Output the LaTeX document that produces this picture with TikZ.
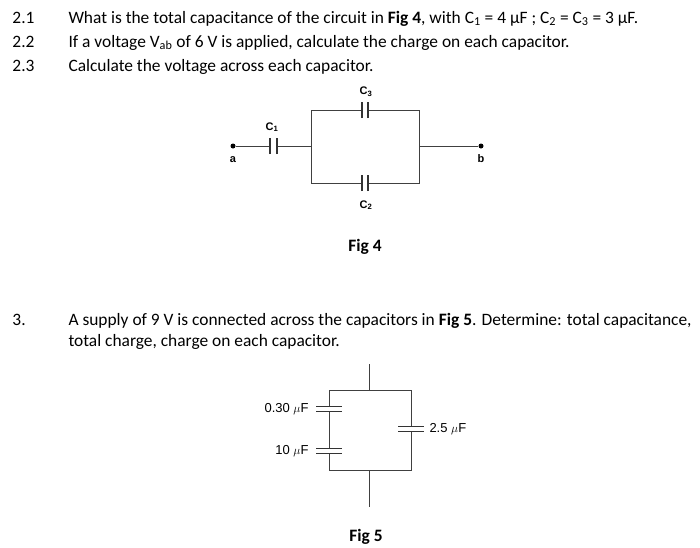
\documentclass[tikz,border=0pt]{standalone}
\usepackage{fontspec}
\setmainfont{Carlito}
\newfontfamily\arial{Liberation Sans}
\begin{document}
\begin{tikzpicture}[x=1pt,y=-1pt,line width=1pt,
  txt/.style={anchor=base west,inner sep=0,font=\fontsize{17.4}{20}\selectfont},
  lbl/.style={inner sep=0,font=\arial\bfseries\fontsize{11}{13}\selectfont},
  lbl5/.style={inner sep=0,font=\arial\fontsize{13}{15}\selectfont},
  wire/.style={draw=black!75,line width=1pt},
  plate/.style={draw=black!80,line width=1.2pt},
  dot/.style={circle,fill=black,inner sep=0,minimum size=5pt}]
\useasboundingbox (0,0) rectangle (700,547);
\fill[white] (0,0) rectangle (700,547);
% text
\node[txt] (n1) at (12,23) {2.1};
\node[txt] (n2) at (12,47) {2.2};
\node[txt] (n3) at (12,71) {2.3};
\node[txt] (t1) at (68,23) {What is the total capacitance of the circuit in \textbf{Fig 4}, with C\textsubscript{1} = 4 µF ; C\textsubscript{2} = C\textsubscript{3} = 3 µF.};
\node[txt] (t2) at (68,47) {If a voltage V\textsubscript{ab} of 6 V is applied, calculate the charge on each capacitor.};
\node[txt] (t3) at (68,71) {Calculate the voltage across each capacitor.};
\node[txt] (n4) at (12,325) {3.};
\node[txt] (t4) at (68,325) {A supply of 9 V is connected across the capacitors in \textbf{Fig 5}.  Determine:  total capacitance,};
\node[txt] (t5) at (68,346) {total charge, charge on each capacitor.};
\node[txt,anchor=base,font=\bfseries\fontsize{17.4}{20}\selectfont] (f4) at (365,251) {Fig 4};
\node[txt,anchor=base,font=\bfseries\fontsize{17.4}{20}\selectfont] (f5) at (366,541) {Fig 5};
% Fig 4
\node[dot] (a) at (233,146) {};
\node[dot] (b) at (481,146) {};
\node[lbl] (la) at (233,160) {a};
\node[lbl] (lb) at (481,159) {b};
\coordinate (c1l) at (270,146); \coordinate (c1r) at (277,146);
\coordinate (bl) at (311,146); \coordinate (br) at (419,146);
\coordinate (tl) at (311,110); \coordinate (tr) at (419,110);
\coordinate (dl) at (311,183); \coordinate (dr) at (419,183);
\coordinate (c3l) at (362,110); \coordinate (c3r) at (368,110);
\coordinate (c2l) at (362,183); \coordinate (c2r) at (368,183);
\draw[wire] (a) -- (c1l) (c1r) -- (bl) (tl) -- (dl) (tl) -- (c3l) (c3r) -- (tr) -- (dr) -- (c2r) (c2l) -- (dl) (br) -- (b);
\foreach \p in {c1l,c1r,c3l,c3r,c2l,c2r} \draw[plate] ([yshift=-8]\p) -- ([yshift=8]\p);
\node[lbl] (lc1) at (272,127) {C\textsubscript{1}};
\node[lbl] (lc3) at (366,92) {C\textsubscript{3}};
\node[lbl] (lc2) at (366,205) {C\textsubscript{2}};
% Fig 5
\coordinate (tt) at (369,364); \coordinate (tm) at (369,390);
\coordinate (bt) at (369,470); \coordinate (bb) at (369,507);
\coordinate (ul) at (329,390); \coordinate (ur) at (411,390);
\coordinate (ll) at (329,470); \coordinate (lr) at (411,470);
\coordinate (p1a) at (329,406.5); \coordinate (p1b) at (329,411.5);
\coordinate (p2a) at (329,448.5); \coordinate (p2b) at (329,453.5);
\coordinate (p3a) at (411,426.5); \coordinate (p3b) at (411,431.5);
\draw[wire] (tt) -- (tm) (bt) -- (bb) (p1a) -- (ul) -- (ur) -- (p3a) (p3b) -- (lr) -- (ll) -- (p2b) (p2a) -- (p1b);
\foreach \p in {p1a,p1b,p2a,p2b,p3a,p3b} \draw[plate] ([xshift=-13]\p) -- ([xshift=13]\p);
\node[lbl5,anchor=east] (l1) at (309,409) {0.30 $\mu$F};
\node[lbl5,anchor=east] (l2) at (309,451) {10 $\mu$F};
\node[lbl5,anchor=west] (l3) at (429,429) {2.5 $\mu$F};
\end{tikzpicture}
\end{document}
